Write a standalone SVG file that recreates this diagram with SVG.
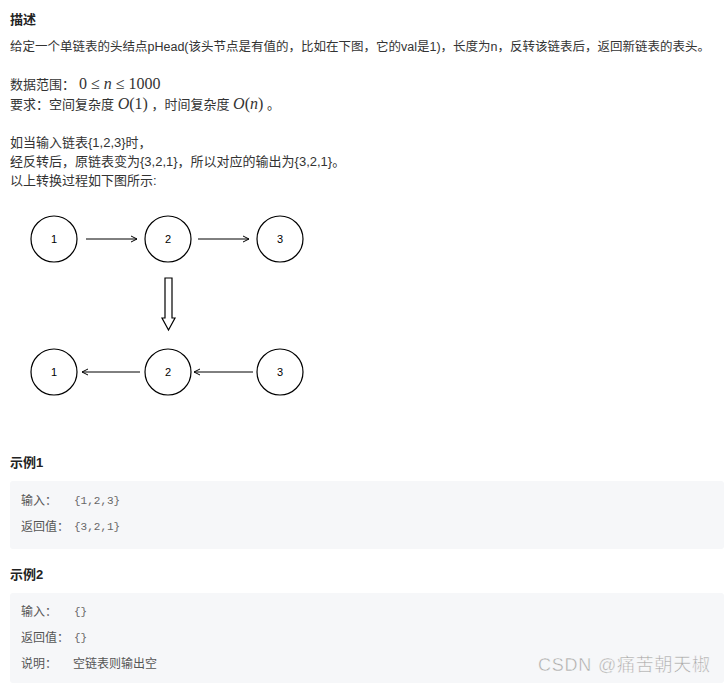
<svg xmlns="http://www.w3.org/2000/svg" width="724" height="683" viewBox="0 0 724 683">
<style>
.t{font-family:"Liberation Sans","Noto Sans CJK SC",sans-serif;font-size:13px;fill:#333}
.b{font-family:"Liberation Sans","Noto Sans CJK SC",sans-serif;font-size:13px;font-weight:bold;fill:#222}
.m{font-family:"Liberation Serif",serif;font-style:italic;font-size:16px;fill:#333}
.mr{font-family:"Liberation Serif",serif;font-size:16px;fill:#333}
.l{font-family:"Liberation Sans","Noto Sans CJK SC",sans-serif;font-size:12px;fill:#555}
.c{font-family:"Liberation Mono",monospace;font-size:11px;fill:#666}
.n circle{fill:#fff;stroke:#000;stroke-width:1.2}
.n text{font-family:"Liberation Sans",sans-serif;font-size:11px;fill:#000;text-anchor:middle}
.e{stroke:#000;stroke-width:1;marker-end:url(#a)}
</style>
<defs><marker id="a" markerWidth="8" markerHeight="8" refX="7" refY="4" orient="auto" markerUnits="userSpaceOnUse"><path d="M1,1 L7,4 L1,7" fill="none" stroke="#000"/></marker></defs>
<rect width="724" height="683" fill="#fff"/>
<text class="b" x="10" y="24">描述</text>
<text class="t" x="10" y="51" style="font-size:12.5px">给定一个单链表的头结点pHead(该头节点是有值的，比如在下图，它的val是1)，长度为n，反转该链表后，返回新链表的表头。</text>
<text class="t" x="10" y="89">数据范围：<tspan class="mr" dx="4">0 ≤ </tspan><tspan class="m">n</tspan><tspan class="mr"> ≤ 1000</tspan></text>
<text class="t" x="10" y="109">要求：空间复杂度 <tspan class="m">O</tspan><tspan class="mr">(1)</tspan> ，时间复杂度 <tspan class="m">O</tspan><tspan class="mr">(</tspan><tspan class="m">n</tspan><tspan class="mr">)</tspan> 。</text>
<text class="t" x="10" y="147">如当输入链表{1,2,3}时，</text>
<text class="t" x="10" y="166">经反转后，原链表变为{3,2,1}，所以对应的输出为{3,2,1}。</text>
<text class="t" x="10" y="185">以上转换过程如下图所示:</text>
<g id="connectors">
<line class="e" x1="86" y1="239" x2="137" y2="239"/>
<line class="e" x1="198" y1="239" x2="249" y2="239"/>
<line class="e" x1="140" y1="372" x2="82" y2="372"/>
<line class="e" x1="253" y1="372" x2="194" y2="372"/>
<path d="M165,278 H172 V318 H175 L168.5,330 L162,318 H165 Z" fill="#fff" stroke="#000" stroke-width="1.2"/>
</g>
<g id="n1" class="n"><circle cx="54" cy="239" r="23"/><text x="54" y="243">1</text></g>
<g id="n2" class="n"><circle cx="168" cy="239" r="23"/><text x="168" y="243">2</text></g>
<g id="n3" class="n"><circle cx="280" cy="239" r="23"/><text x="280" y="243">3</text></g>
<g id="r1" class="n"><circle cx="54" cy="372" r="23"/><text x="54" y="376">1</text></g>
<g id="r2" class="n"><circle cx="168" cy="372" r="23"/><text x="168" y="376">2</text></g>
<g id="r3" class="n"><circle cx="280" cy="372" r="23"/><text x="280" y="376">3</text></g>
<text class="b" x="10" y="467">示例1</text>
<rect x="10" y="481" width="714" height="68" rx="3" fill="#f6f7f9"/>
<text class="l" x="21" y="505">输入：</text><text class="c" x="74" y="504">{1,2,3}</text>
<text class="l" x="21" y="531">返回值：</text><text class="c" x="74" y="530">{3,2,1}</text>
<text class="b" x="10" y="579">示例2</text>
<rect x="10" y="593" width="714" height="90" rx="3" fill="#f6f7f9"/>
<text class="l" x="21" y="616">输入：</text><text class="c" x="74" y="615">{}</text>
<text class="l" x="21" y="642">返回值：</text><text class="c" x="74" y="641">{}</text>
<text class="l" x="21" y="668">说明：</text><text class="l" x="73" y="668">空链表则输出空</text>
<text x="538" y="671" font-family="Liberation Sans,Noto Sans CJK SC,sans-serif" font-size="18" fill="#aaa" stroke="#fff" stroke-width="0.4" textLength="172">CSDN @痛苦朝天椒</text>
</svg>
